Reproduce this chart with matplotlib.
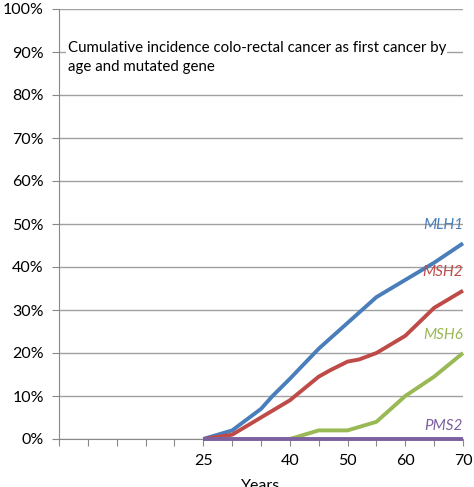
import matplotlib
matplotlib.use("Agg")
import matplotlib.pyplot as plt
plt.rcParams['font.family'] = ['Lato', 'DejaVu Sans']

mlh1_x = [25, 30, 35, 37, 40, 45, 50, 55, 60, 65, 70]
mlh1_y = [0, 2, 7, 10, 14, 21, 27, 33, 37, 41, 45.5]
msh2_x = [25, 30, 35, 40, 45, 47, 50, 52, 55, 60, 65, 70]
msh2_y = [0, 1, 5, 9, 14.5, 16, 18, 18.5, 20, 24, 30.5, 34.5]
msh6_x = [40, 45, 50, 55, 60, 65, 70]
msh6_y = [0, 2, 2, 4, 10, 14.5, 20]
pms2_x = [25, 70]
pms2_y = [0, 0]
names = ["MLH1", "MSH2", "MSH6", "PMS2"]
colors = ["#4a7ebb", "#be4b48", "#98b954", "#7d60a0"]
xlabels = {25: "25", 40: "40", 50: "50", 60: "60", 70: "70"}

fig = plt.figure(figsize=(4.74, 4.87), dpi=100)
ax = fig.add_axes([59/474, 1-439/487, 404/474, 430/487])
series = [(mlh1_x, mlh1_y), (msh2_x, msh2_y), (msh6_x, msh6_y), (pms2_x, pms2_y)]
for (x, y), c in zip(series, colors):
    ax.plot(x, y, color=c, lw=2.8, solid_capstyle="butt", zorder=3, clip_on=False)
lab_pos = [(70, 48.2), (70, 37.2), (70, 22.5), (70, 1.5)]
for n, c, (x, y) in zip(names, colors, lab_pos):
    ax.text(x, y, n, color=c, style="italic", ha="right", va="bottom", fontsize=11)
ax.set_xlim(0, 70)
ax.set_ylim(0, 100)
ax.set_yticks(range(0, 101, 10))
ax.set_yticklabels([f"{v}%" for v in range(0, 101, 10)], fontsize=11.5)
ax.set_xticks(range(0, 71, 5))
ax.set_xticklabels([xlabels.get(v, "") for v in range(0, 71, 5)], fontsize=11.5)
ax.tick_params(axis="x", length=5, color="#888888", pad=6)
ax.tick_params(axis="y", length=5, color="#888888", pad=6)
ax.grid(axis="y", color="#a0a0a0", lw=1)
ax.set_axisbelow(True)
for s in ["top", "right"]:
    ax.spines[s].set_visible(False)
for s in ["left", "bottom"]:
    ax.spines[s].set_color("#888888")
ax.set_xlabel("Years", fontsize=11.5, labelpad=8)
ax.text(1.5, 92.5, "Cumulative incidence colo-rectal cancer as first cancer by\nage and mutated gene",
        fontsize=10.8, va="top", ha="left", linespacing=1.45,
        bbox=dict(facecolor="white", edgecolor="none", pad=1))
fig.savefig("out.png", dpi=100)
